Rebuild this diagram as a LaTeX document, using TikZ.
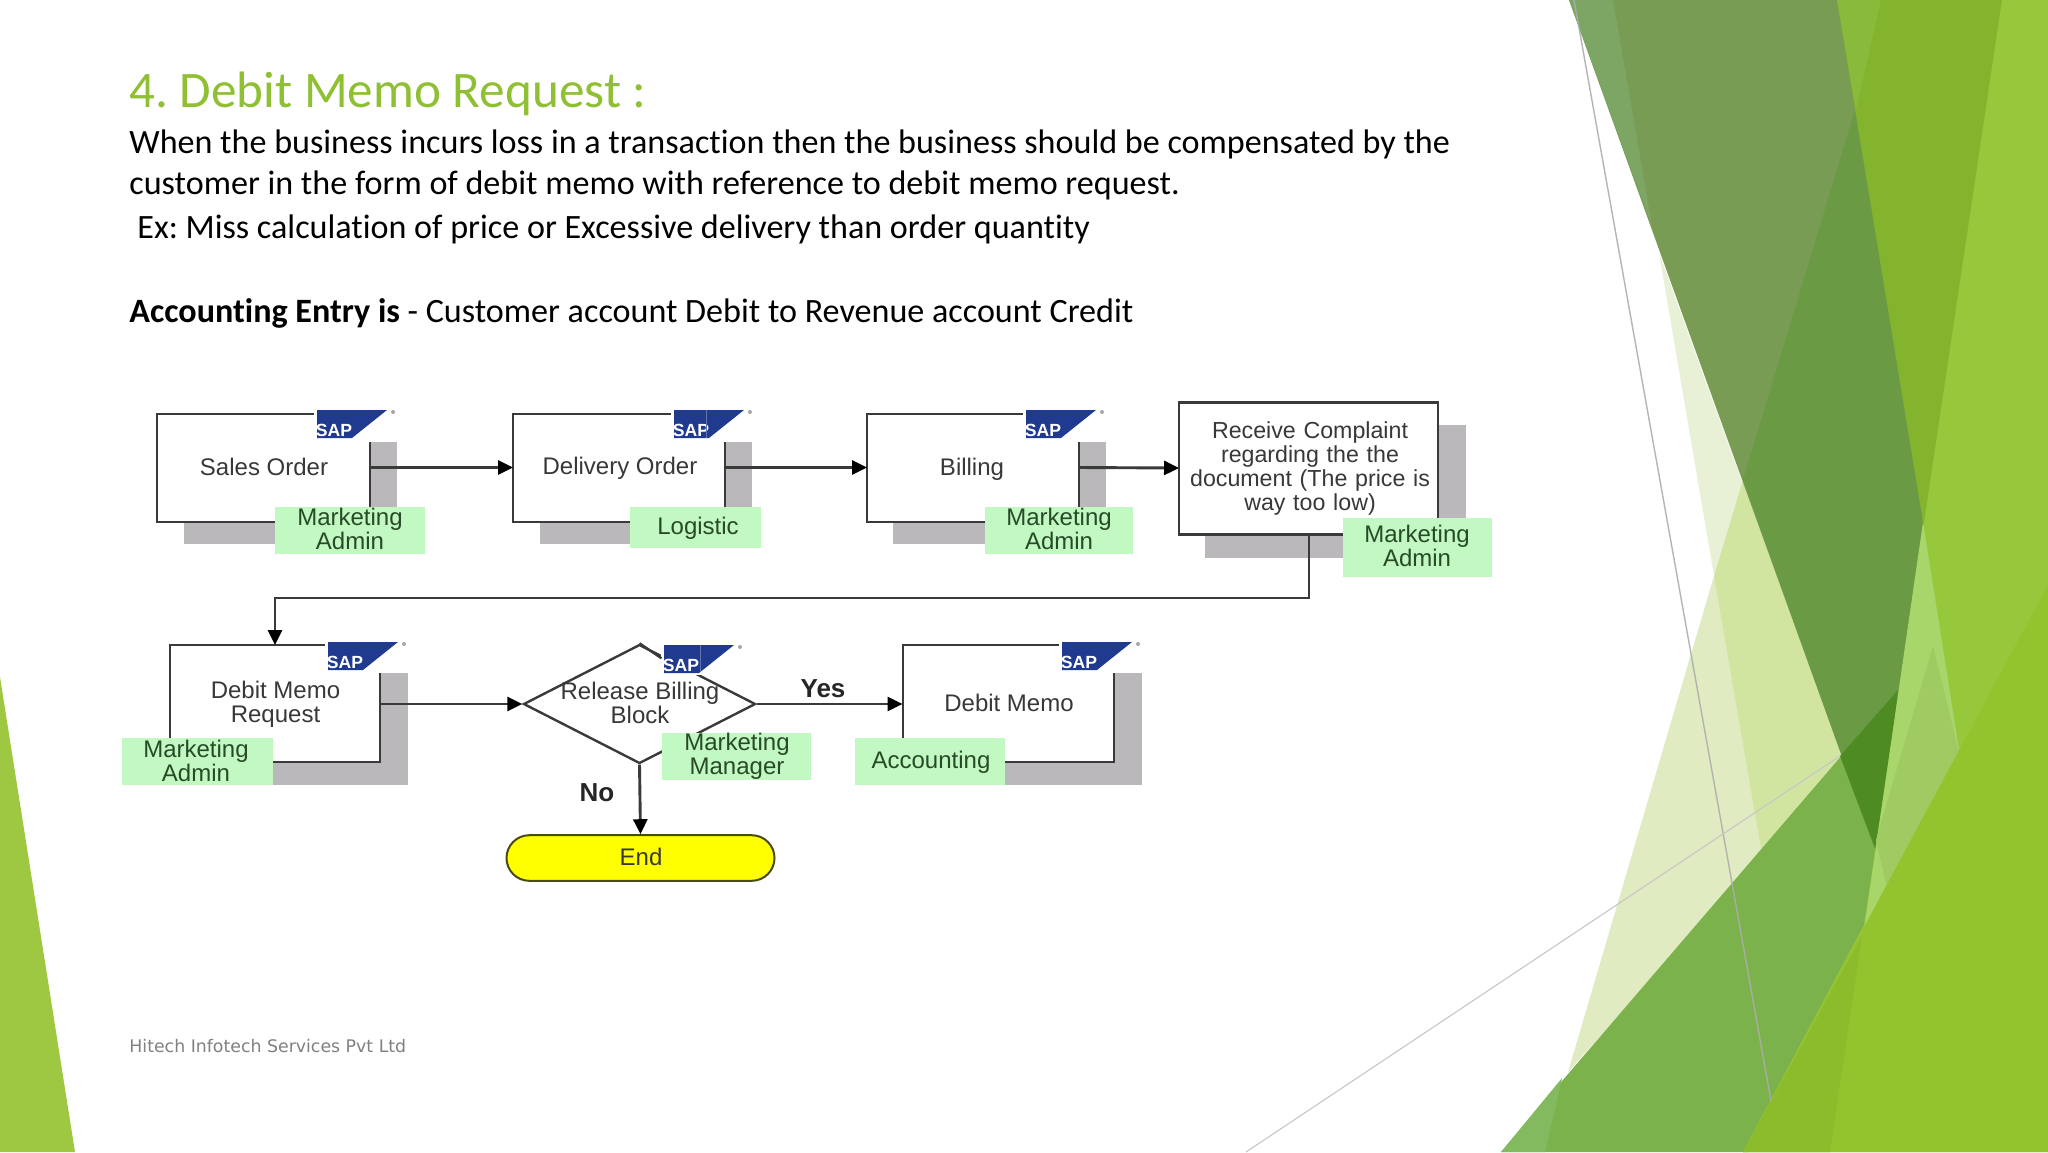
\documentclass[tikz,border=0pt]{standalone}
\usepackage{fontspec}
\setmainfont[Ligatures=NoCommon]{Carlito}
\newfontfamily\dia{Liberation Sans}
\newfontfamily\foot{DejaVu Sans}
\usetikzlibrary{arrows.meta,shapes.geometric}
\definecolor{lineC}{HTML}{3A3A3A}
\definecolor{shad}{HTML}{BAB8BA}
\definecolor{lab}{HTML}{C2F8C2}
\definecolor{sapb}{HTML}{1F3A8E}
\definecolor{titleC}{HTML}{8FBF33}
\definecolor{labT}{HTML}{274A27}
\definecolor{yel}{HTML}{FFFF00}
\definecolor{endB}{HTML}{4A4A10}
\frenchspacing
\tikzset{
  x=0.5pt,y=-0.5pt,
  flow/.style={line width=1.45pt,draw=lineC,line cap=butt,line join=miter},
  arr/.style={flow,-{Triangle[length=7.5pt,width=7pt,color=black]}},
  sh/.style={fill=shad,draw=none},
  lb/.style={fill=lab,draw=none},
  dt/.style={font=\dia\fontsize{12}{12}\selectfont,text=black!78,align=center,inner sep=0pt},
  lt/.style={font=\dia\fontsize{12}{12}\selectfont,text=labT,align=center,inner sep=0pt},
  bt/.style={font=\fontsize{17.05}{20}\selectfont,text=black,anchor=base west,inner sep=0pt},
  yn/.style={font=\dia\bfseries\fontsize{13}{13}\selectfont,text=black!85,inner sep=0pt},
  poly/.style={draw=none},
}
% \sapl{x}{y}: top-left corner of the logo
\newcommand{\sapl}[2]{%
  \begin{scope}[shift={(#1,#2)}]
    \fill[white] (-3,-4) rectangle (80,30);
    \fill[sapb] (0,0) -- (70,0) -- (35,28) -- (0,28) -- cycle;
    \fill[gray!70] (76,2) circle (1pt);
    \node[inner sep=0pt,text=white,font=\dia\bfseries\fontsize{8.8}{8.8}\selectfont] at (17,20) {SAP};
  \end{scope}}
\begin{document}
\begin{tikzpicture}
\useasboundingbox (0,0) rectangle (2048,1152);
\fill[white] (0,0) rectangle (2048,1152);
% background facets
\fill[poly,fill={rgb,255:red,158;green,200;blue,66}] (0,677) -- (75,1152) -- (0,1152) -- cycle;
\fill[poly,fill={rgb,255:red,232;green,241;blue,214}] (1659,253) -- (1745,490) -- (1714,576) -- cycle;
\fill[poly,fill={rgb,255:red,224;green,235;blue,193}] (1714,576) -- (1775,840) -- (1568,1072) -- cycle;
\fill[poly,fill={rgb,255:red,210;green,229;blue,160}] (1743,480) -- (1842,756) -- (1763,860) -- (1714,576) -- cycle;
\fill[poly,fill={rgb,255:red,121;green,156;blue,85}] (1569,0) -- (1839,0) -- (1928,522) -- (1880,851) -- (1876,851) -- cycle;
\fill[poly,fill={rgb,255:red,125;green,165;blue,100}] (1569,0) -- (1613,0) -- (1652,226) -- cycle;
\fill[poly,fill={rgb,255:red,106;green,154;blue,68}] (1855,110) -- (1928,522) -- (1880,851) -- (1876,851) -- (1743,480) -- cycle;
\fill[poly,fill={rgb,255:red,132;green,179;blue,46}] (1837,0) -- (2006,0) -- (1926,530) -- (1923,522) -- cycle;
\fill[poly,fill={rgb,255:red,138;green,186;blue,59}] (1837,0) -- (1881,0) -- (1856,110) -- cycle;
\fill[poly,fill={rgb,255:red,123;green,178;blue,76}] (1898,690) -- (1868,925) -- (1748,1152) -- (1501,1152) -- cycle;
\fill[poly,fill={rgb,255:red,132;green,186;blue,95}] (1501,1152) -- (1545,1152) -- (1562,1078) -- cycle;
\fill[poly,fill={rgb,255:red,78;green,139;blue,34}] (1840,756) -- (1898,690) -- (1880,851) -- (1876,851) -- cycle;
\fill[poly,fill={rgb,255:red,151;green,200;blue,60}] (2002,0) -- (2048,0) -- (2048,1152) -- (1743,1152) -- (1864,925) -- cycle;
\fill[poly,fill={rgb,255:red,168;green,214;blue,106}] (1923,522) -- (1960,756) -- (1864,930) -- cycle;
\fill[poly,fill={rgb,255:red,160;green,203;blue,98}] (1933,646) -- (1960,756) -- (1887,888) -- (1876,840) -- cycle;
\fill[poly,fill={rgb,255:red,147;green,196;blue,45}] (2048,585) -- (2048,1152) -- (1743,1152) -- cycle;
\fill[poly,fill={rgb,255:red,140;green,188;blue,44}] (1743,1152) -- (1830,1152) -- (1862,936) -- cycle;
\coordinate (la) at (1574,0); \coordinate (lb) at (1771,1101);
\coordinate (lc) at (1246,1152); \coordinate (ld) at (1840,756);
\draw[line width=0.7pt,draw=black!32,opacity=.9] (la) -- (lb);
\draw[line width=0.6pt,draw=black!22,opacity=.9] (lc) -- (ld);
% page text
\node[anchor=base west,inner sep=0pt,text=titleC,font=\fontsize{25.6}{28}\selectfont] (ti) at (129,107) {4. Debit Memo Request :};
\node[bt] (t1) at (129,153) {When the business incurs loss in a transaction then the business should be compensated by the};
\node[bt] (t2) at (129,194) {customer in the form of debit memo with reference to debit memo request.};
\node[bt] (t3) at (137,238.5) {Ex: Miss calculation of price or Excessive delivery than order quantity};
\node[bt] (t4) at (129,322) {\textbf{Accounting Entry is} - Customer account Debit to Revenue account Credit};
\node[anchor=base west,inner sep=0pt,text=black!50,font=\foot\fontsize{8.67}{11}\selectfont] (ft) at (129,1052) {Hitech Infotech Services Pvt Ltd};
% shadows
\fill[sh] (370,442) rectangle (397,507); \fill[sh] (184,521) rectangle (275,544);
\fill[sh] (725,442) rectangle (752,507); \fill[sh] (540,521) rectangle (630,544);
\fill[sh] (1079,442) rectangle (1106,507); \fill[sh] (893,521) rectangle (985,544);
\fill[sh] (1438,425) rectangle (1466,518); \fill[sh] (1205,534) rectangle (1343,558);
\fill[sh] (380,673) rectangle (408,785); \fill[sh] (272,762) rectangle (408,785);
\fill[sh] (1114,673) rectangle (1142,785); \fill[sh] (1005,762) rectangle (1142,785);
% nodes
\coordinate (so) at (370,467.5); \coordinate (dl) at (513,467.5);
\coordinate (dr) at (725,467.5); \coordinate (bl) at (867,467.5);
\coordinate (br) at (1079,467.5); \coordinate (rl) at (1179,468);
\coordinate (rb) at (1309,534); \coordinate (dtop) at (275,645);
\coordinate (mr) at (380,704); \coordinate (fr) at (902.5,704);
\draw[flow] (314,414) -- (157,414) -- (157,522) -- (275,522);
\draw[flow] (370,442) -- (370,507);
\draw[flow] (671,414) -- (513,414) -- (513,522) -- (630,522);
\draw[flow] (725,442) -- (725,507);
\draw[flow] (1024,414) -- (867,414) -- (867,522) -- (985,522);
\draw[flow] (1079,442) -- (1079,507);
\node[rectangle,draw=lineC,line width=1.45pt,fill=white,minimum width=129.5pt,minimum height=65.8pt,inner sep=0pt] (rc) at (1308.5,468.5) {};
\node[dt,text width=130pt,font=\dia\fontsize{11.6}{12}\selectfont,anchor=center] (rct) at (1310,468) {Receive Complaint\\regarding the the\\document (The price is\\way too low)};
\draw[flow] (328,645) -- (170,645) -- (170,738);
\draw[flow] (272,762) -- (380,762) -- (380,673);
\draw[flow] (1060,645) -- (903,645) -- (903,738);
\draw[flow] (1005,762) -- (1114,762) -- (1114,673);
\node[diamond,aspect=1.95,draw=lineC,line width=1.2pt,inner sep=0pt,minimum width=116pt,minimum height=59.5pt] (rb2) at (639.5,704) {};
\node[rounded corners=11.4pt,draw=endB,line width=1pt,fill=yel,minimum width=134pt,minimum height=22.8pt,inner sep=0pt] (en) at (640.5,858) {};
% connectors
\draw[arr] (so) -- (dl);
\draw[arr] (dr) -- (bl);
\draw[arr] (br) -- (rl);
\draw[arr] (rb) |- (275,598) -- (dtop);
\draw[arr] (mr) -- (rb2.west);
\draw[arr] (rb2.east) -- (fr);
\draw[arr] (rb2.south) -- (en.north);
% green labels
\node[lb,fill=lab,minimum width=75pt,minimum height=23.5pt,inner sep=0pt] (l1) at (350,530.5) {};
\node[lb,fill=lab,minimum width=65.5pt,minimum height=20.5pt,inner sep=0pt] (l2) at (695.5,527.5) {};
\node[lb,fill=lab,minimum width=74pt,minimum height=23.5pt,inner sep=0pt] (l3) at (1059,530.5) {};
\node[lb,fill=lab,minimum width=74.5pt,minimum height=29.5pt,inner sep=0pt] (l4) at (1417.5,547.5) {};
\node[lb,fill=lab,minimum width=75.5pt,minimum height=23.5pt,inner sep=0pt] (l5) at (197,761.5) {};
\node[lb,fill=lab,minimum width=74.5pt,minimum height=23.5pt,inner sep=0pt] (l6) at (736,756.5) {};
\node[lb,fill=lab,minimum width=75pt,minimum height=23.5pt,inner sep=0pt] (l7) at (930,761.5) {};
% logos
\sapl{317}{410}\sapl{674}{410}\sapl{1026}{410}
\sapl{328}{642}\sapl{664}{645}\sapl{1062}{642}
\draw[flow,line width=1.2pt] (rb2.north) -- ++(22,15);
\draw[line width=.5pt,draw=sapb!70!white] (700,645) -- (700,672);
\draw[line width=.5pt,draw=sapb!70!white] (706,410) -- (706,438);
% texts
\node[dt] (a1) at (264,467) {Sales Order};
\node[dt] (a2) at (620,468) {Delivery Order};
\node[dt] (a3) at (972,469.5) {Billing};
\node[lt] (b1) at (350,529) {Marketing\\Admin};
\node[lt] (b2) at (698,528) {Logistic};
\node[lt] (b3) at (1059,529) {Marketing\\Admin};
\node[lt] (b4) at (1417,546) {Marketing\\Admin};
\node[lt] (b5) at (196,761) {Marketing\\Admin};
\node[lt] (b6) at (737,756) {Marketing\\Manager};
\node[lt] (b7) at (931,762.5) {Accounting};
\node[dt] (a4) at (275.5,704.5) {Debit Memo\\Request};
\node[dt] (a5) at (640,703) {Release Billing\\Block};
\node[dt] (a6) at (1009,703) {Debit Memo};
\node[dt] (a7) at (641,857) {End};
\node[yn] (yes) at (823,689) {Yes};
\node[yn] (no) at (597,793) {No};
\end{tikzpicture}
\end{document}
